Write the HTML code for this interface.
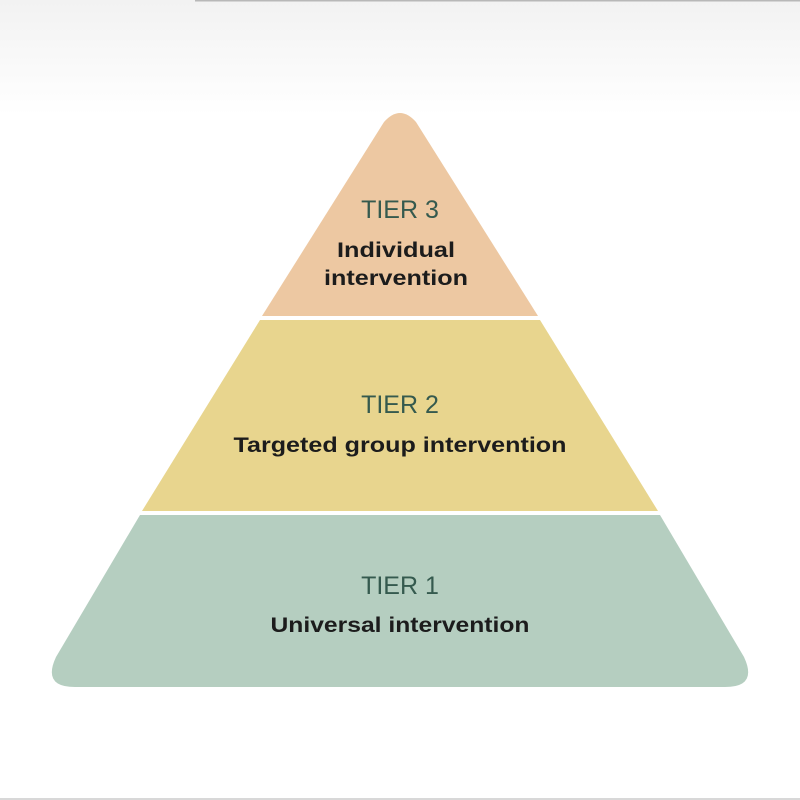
<!DOCTYPE html>
<html><head><meta charset="utf-8"><style>
html,body{margin:0;padding:0;width:800px;height:800px;overflow:hidden;background:#fff}
</style></head><body>
<svg width="800" height="800" viewBox="0 0 800 800" xmlns="http://www.w3.org/2000/svg">
<defs><linearGradient id="bg" x1="0" y1="0" x2="0" y2="1">
<stop offset="0" stop-color="#f2f2f2"/><stop offset="1" stop-color="#ffffff"/></linearGradient></defs>
<rect x="0" y="0" width="800" height="115" fill="url(#bg)"/>
<rect x="195" y="0" width="605" height="1.5" fill="#b8b8b8"/>
<path d="M262 316 L384 122 Q400 104 416 122 L538 316 Z" fill="#edc8a2"/>
<path d="M260 320 L540 320 L658 511 L142 511 Z" fill="#e8d58e"/>
<path d="M140 515 L660 515 L744 657 Q758 687 725 687 L75 687 Q42 687 56 657 Z" fill="#b5cec0"/>
<g font-family="Liberation Sans, sans-serif" text-anchor="middle">
<text x="400" y="218" font-size="25" fill="#355a4e">TIER 3</text>
<text x="396" y="257" font-size="21" font-weight="bold" fill="#1c1c1c" textLength="118" lengthAdjust="spacingAndGlyphs">Individual</text>
<text x="396" y="285" font-size="21" font-weight="bold" fill="#1c1c1c" textLength="144" lengthAdjust="spacingAndGlyphs">intervention</text>
<text x="400" y="413" font-size="25" fill="#355a4e">TIER 2</text>
<text x="400" y="452" font-size="21" font-weight="bold" fill="#1c1c1c" textLength="333" lengthAdjust="spacingAndGlyphs">Targeted group intervention</text>
<text x="400" y="594" font-size="25" fill="#355a4e">TIER 1</text>
<text x="400" y="632" font-size="21" font-weight="bold" fill="#1c1c1c" textLength="259" lengthAdjust="spacingAndGlyphs">Universal intervention</text>
</g>
<rect x="0" y="798" width="800" height="2" fill="#d8d8d8"/>
</svg>
</body></html>
